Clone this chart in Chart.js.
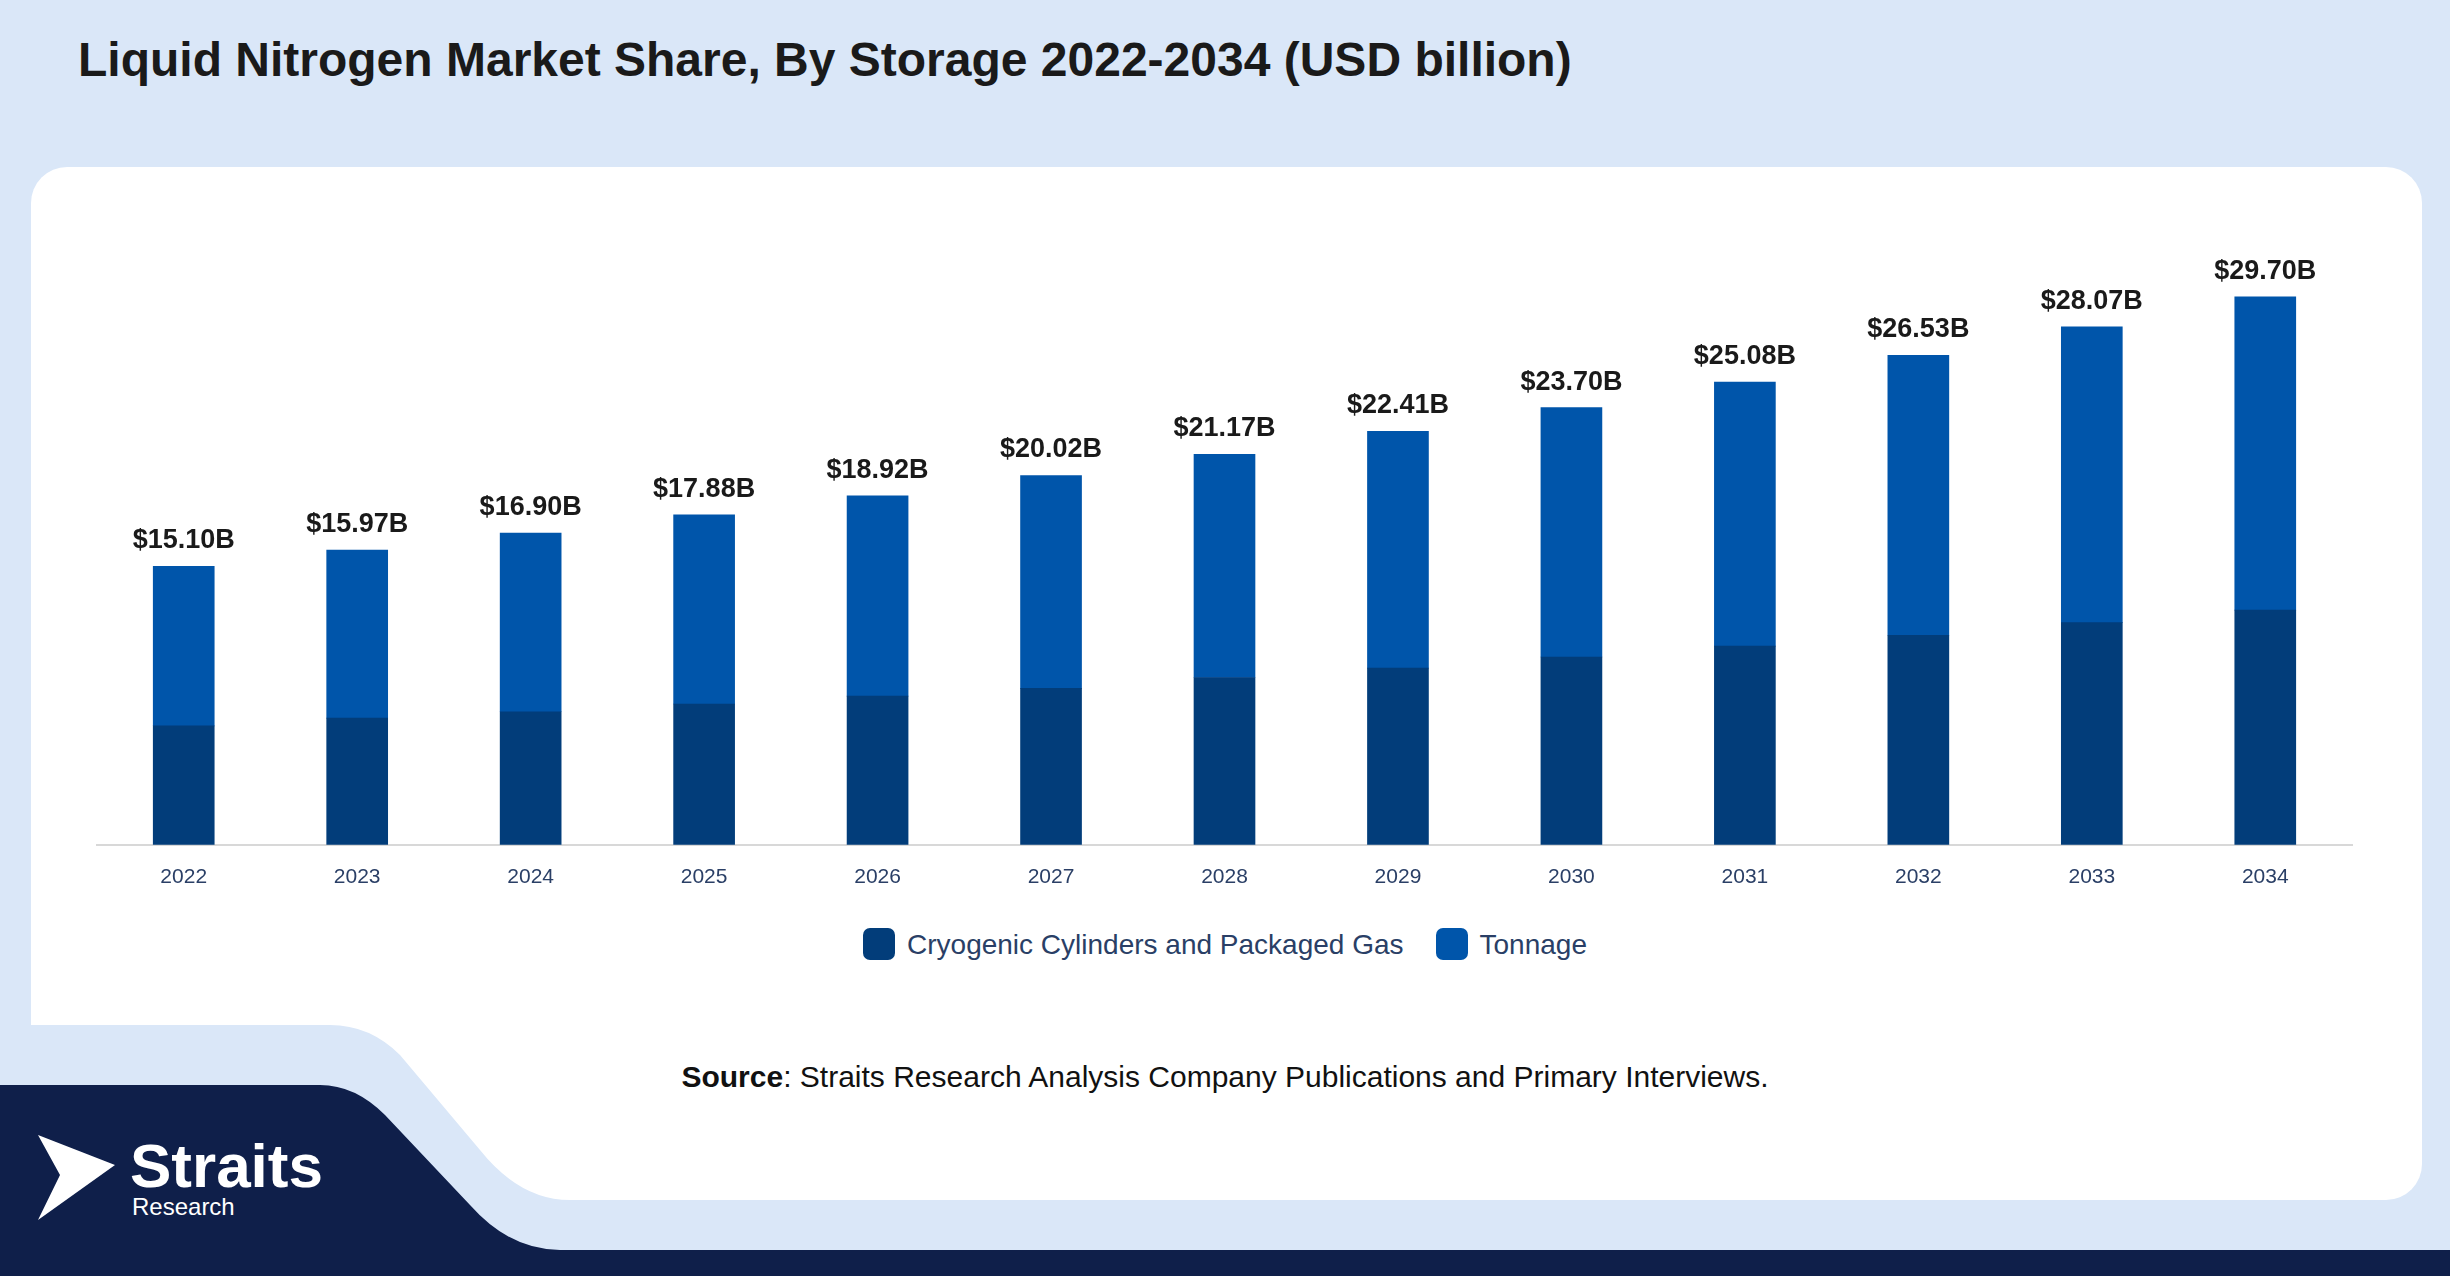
<!DOCTYPE html>
<html><head><meta charset="utf-8">
<script src="https://cdn.jsdelivr.net/npm/chart.js@4"></script>
<style>
html,body{margin:0;padding:0;width:2450px;height:1276px;overflow:hidden;background:#dae7f8;font-family:"Liberation Sans",Arial,sans-serif}
#title{position:absolute;left:78px;top:32px;font-size:48px;font-weight:bold;color:#1a1a1a}
#card{position:absolute;left:31px;top:167px;width:2391px;height:1033px;background:#fff;border-radius:36px}
#cw{position:absolute;left:31px;top:167px;width:2391px;height:735px}
#legend{position:absolute;top:928px;left:0;width:2450px;text-align:center;font-size:28px;color:#2a3f66}
.li{display:inline-block;margin:0 16px;vertical-align:middle}
.sw{display:inline-block;width:32px;height:32px;border-radius:7px;vertical-align:middle;margin-right:12px;position:relative;top:-2px}
#source{position:absolute;top:1060px;left:0;width:2450px;text-align:center;font-size:30px;color:#111}
</style></head><body>
<div id="title">Liquid Nitrogen Market Share, By Storage 2022-2034 (USD billion)</div>
<div id="card"></div>
<svg style="position:absolute;left:0;top:0" width="2450" height="1276">
<path d="M0 1025 L330 1025 Q370 1025 400 1055 L480 1150 Q520 1200 570 1200 L2450 1200 L2450 1276 L0 1276 Z" fill="#dae7f8"/>
<path d="M0 1085 L320 1085 Q355 1085 385 1115 L470 1205 Q510 1250 560 1250 L2450 1250 L2450 1276 L0 1276 Z" fill="#0f1f4a"/>
<path d="M38 1135 L115 1165 L38 1220 L60 1175 Z" fill="#fff"/>
<text x="130" y="1187" font-family="Liberation Sans" font-weight="bold" font-size="62" fill="#fff">Straits</text>
<text x="132" y="1215" font-family="Liberation Sans" font-size="24" fill="#fff">Research</text>
</svg>
<div id="cw"><canvas id="c"></canvas></div>
<div id="legend"><span class="li"><span class="sw" style="background:#023d7a"></span>Cryogenic Cylinders and Packaged Gas</span><span class="li"><span class="sw" style="background:#0055aa"></span>Tonnage</span></div>
<div id="source"><b>Source</b>: Straits Research Analysis Company Publications and Primary Interviews.</div>
<script>
const years=["2022","2023","2024","2025","2026","2027","2028","2029","2030","2031","2032","2033","2034"];
const totals=[15.10,15.97,16.90,17.88,18.92,20.02,21.17,22.41,23.70,25.08,26.53,28.07,29.70];
const cryogenic=[6.45,6.87,7.21,7.63,8.06,8.48,9.07,9.58,10.18,10.77,11.36,12.04,12.72];
const tonnage=totals.map((t,i)=>+(t-cryogenic[i]).toFixed(2));
const totalLabels={id:"tl",afterDatasetsDraw(ch){const ctx=ch.ctx;const m=ch.getDatasetMeta(1);ctx.save();ctx.font="bold 27px 'Liberation Sans', Arial";ctx.fillStyle="#1a1a1a";ctx.textAlign="center";ctx.textBaseline="bottom";m.data.forEach((b,i)=>{ctx.fillText("$"+totals[i].toFixed(2)+"B",b.x,b.y-12);});ctx.restore();}};
new Chart(document.getElementById("c"),{type:"bar",data:{labels:years,datasets:[
{label:"Cryogenic Cylinders and Packaged Gas",data:cryogenic,backgroundColor:"#023d7a",barThickness:61},
{label:"Tonnage",data:tonnage,backgroundColor:"#0055aa",barThickness:61}]},
options:{responsive:true,maintainAspectRatio:false,animation:false,devicePixelRatio:1,
layout:{padding:{left:66,right:70,top:69,bottom:0}},
plugins:{legend:{display:false},tooltip:{enabled:false}},
scales:{x:{stacked:true,grid:{display:false},border:{color:"#d8d8d8",width:2},ticks:{color:"#2a3f66",font:{size:21,family:"Liberation Sans"},padding:12}},
y:{stacked:true,display:false,min:0,max:33}}},
plugins:[totalLabels]});
</script>
</body></html>
